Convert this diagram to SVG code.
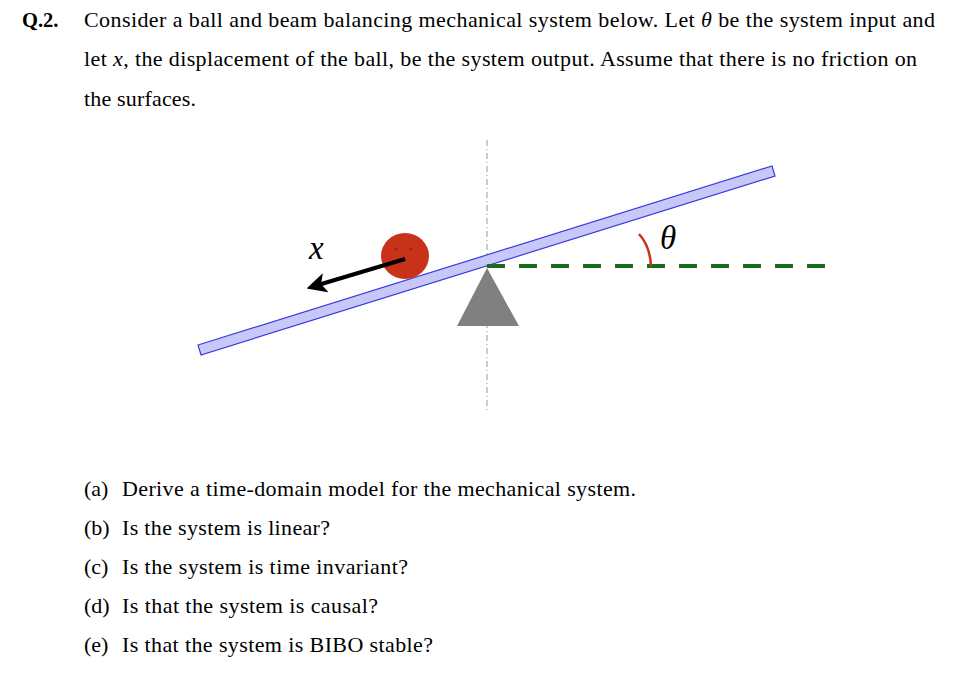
<svg xmlns="http://www.w3.org/2000/svg" width="956" height="692" viewBox="0 0 956 692">
<style>
text{font-family:"Liberation Serif","Times New Roman",serif;font-size:22px;fill:#000}
</style>
<defs><marker id="ah" markerWidth="5" markerHeight="5" refX="2" refY="2.5" orient="auto" markerUnits="strokeWidth"><path d="M0,0 L5,2.5 L0,5 L1.2,2.5 z" fill="#000"/></marker></defs>
<rect width="956" height="692" fill="#fff"/>
<g id="text">
<text x="22" y="27" font-weight="bold" style="font-size:20.5px">Q.2.</text>
<text x="84" y="27" textLength="851" lengthAdjust="spacing">Consider a ball and beam balancing mechanical system below. Let <tspan style="font-style:italic">θ</tspan> be the system input and</text>
<text x="84" y="66" textLength="833" lengthAdjust="spacing">let <tspan style="font-style:italic">x</tspan>, the displacement of the ball, be the system output. Assume that there is no friction on</text>
<text x="84" y="106" textLength="112" lengthAdjust="spacing">the surfaces.</text>
<text x="84" y="496">(a)</text><text x="122" y="496" textLength="514" lengthAdjust="spacing">Derive a time-domain model for the mechanical system.</text>
<text x="84" y="535">(b)</text><text x="122" y="535" textLength="208" lengthAdjust="spacing">Is the system is linear?</text>
<text x="84" y="574">(c)</text><text x="122" y="574" textLength="286" lengthAdjust="spacing">Is the system is time invariant?</text>
<text x="84" y="613">(d)</text><text x="122" y="613" textLength="256" lengthAdjust="spacing">Is that the system is causal?</text>
<text x="84" y="652">(e)</text><text x="122" y="652" textLength="311" lengthAdjust="spacing">Is that the system is BIBO stable?</text>
</g>
<g id="axis"><line x1="487" y1="140" x2="487" y2="410" stroke="#999" stroke-width="1" stroke-dasharray="6,3,1,3"/></g>
<g id="beam"><polygon points="198,345 772,166 775,176 201,355" fill="#c8c8f8" stroke="#3a3ae0" stroke-width="1.2"/></g>
<g id="pivot"><polygon points="487,268 457,326 519,326" fill="#808080"/></g>
<g id="ball"><ellipse cx="405" cy="256" rx="24" ry="23" fill="#c83218"/><circle cx="396" cy="249" r="1.5" fill="#8a2a1a"/><circle cx="411" cy="249" r="1.5" fill="#8a2a1a"/></g>
<g id="connectors">
<line x1="405" y1="259" x2="318" y2="285" stroke="#000" stroke-width="4" marker-end="url(#ah)"/>
<line x1="487" y1="266" x2="832" y2="266" stroke="#1a6b1a" stroke-width="4" stroke-dasharray="18,14"/>
<path d="M639,234 Q650,246 651,266" fill="none" stroke="#c83218" stroke-width="2.5"/>
</g>
<g id="labels">
<text transform="translate(309,259) scale(1.5)" font-style="italic">x</text>
<text transform="translate(660,249) scale(1.5)" font-style="italic">θ</text>
</g>
</svg>
